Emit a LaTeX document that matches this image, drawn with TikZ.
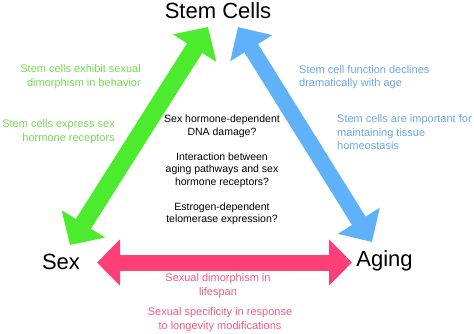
\documentclass[tikz,border=0pt]{standalone}
\usepackage{fontspec}
\setmainfont{Liberation Sans}
\usetikzlibrary{arrows.meta}

\definecolor{sexgreen}{HTML}{4DEB2E}
\definecolor{agingblue}{HTML}{5FB1F9}
\definecolor{lifepink}{HTML}{FF3F78}
\definecolor{sexgreentext}{HTML}{74DA52}
\definecolor{agingbluetext}{HTML}{6AA6E8}
\definecolor{lifepinktext}{HTML}{F05886}

\tikzset{
  corner/.style={inner sep=0pt, font=\fontsize{22}{26}\selectfont},
  remark/.style={inner sep=0pt, font=\fontsize{11}{13.5}\selectfont},
  question/.style={inner sep=0pt, align=center, font=\fontsize{10.5}{12.5}\selectfont},
  fat/.style={line width=#1},
}

\begin{document}
\begin{tikzpicture}[x=1pt,y=-1pt]
\useasboundingbox (0,0) rectangle (474,333);

\node[corner, anchor=base] (stem) at (218,18.5) {Stem Cells};
\node[corner, anchor=base] (sex) at (61,269) {Sex};
\node[corner, anchor=base] (aging) at (384.5,266.5) {Aging};

\coordinate (gs) at (70,245);
\coordinate (gt) at (208,27);
\coordinate (bt) at (238,27);
\coordinate (ba) at (372,242);
\coordinate (ps) at (97,262.5);
\coordinate (pa) at (352,262.5);

\draw[sexgreen, fat=18pt, {Triangle[length=25pt,width=50pt]}-{Triangle[length=25pt,width=50pt]}] (gs) -- (gt);
\draw[agingblue, fat=16pt, {Triangle[length=25pt,width=48pt]}-{Triangle[length=25pt,width=48pt]}] (bt) -- (ba);
\draw[lifepink, fat=16pt, {Triangle[length=23pt,width=45pt]}-{Triangle[length=23pt,width=45pt]}] (ps) -- (pa);

\node[remark, sexgreentext, align=right, anchor=east] (g1) at (141,76.5) {Stem cells exhibit sexual\\dimorphism in behavior};
\node[remark, sexgreentext, align=right, anchor=east] (g2) at (115,131.5) {Stem cells express sex\\hormone receptors};

\node[remark, agingbluetext, align=left, anchor=west] (b1) at (299,77) {Stem cell function declines\\dramatically with age};
\node[remark, agingbluetext, align=left, anchor=west] (b2) at (337,132.5) {Stem cells are important for\\maintaining tissue\\homeostasis};

\node[remark, lifepinktext, align=center] (p1) at (218,285.5) {Sexual dimorphism in\\lifespan};
\node[remark, lifepinktext, align=center] (p2) at (220,319.5) {Sexual specificity in response\\to longevity modifications};

\node[question] (q) at (222,170) {Sex hormone-dependent\\DNA damage?\\[12.5pt]
Interaction between\\aging pathways and sex\\hormone receptors?\\[12.5pt]
Estrogen-dependent\\telomerase expression?};
\end{tikzpicture}
\end{document}
